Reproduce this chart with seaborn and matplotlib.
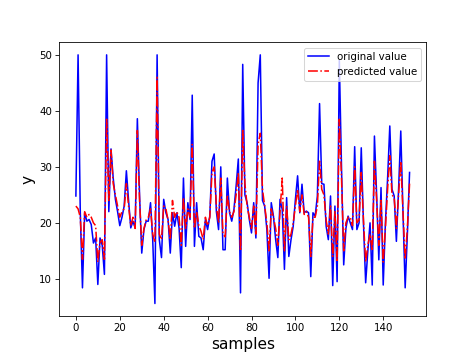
import numpy as np
import pandas as pd
import matplotlib
matplotlib.use("Agg")
import matplotlib.pyplot as plt
import seaborn as sns

# stvarne vrijednosti (ocitane sa slike)
original_value = [
    24.8, 50, 22, 8.4, 21.8, 20.3, 20.6, 19.7, 16.4, 17.3,
    9, 17.3, 16, 10.8, 50, 22, 33.2, 28, 24.2, 22,
    19.5, 21, 23, 29.3, 24, 19.1, 20.3, 19.1, 38.6, 25,
    14.6, 18.8, 20.3, 20.3, 23.6, 17, 5.6, 50, 17, 13.8,
    24.2, 21.8, 20.6, 14.6, 21.8, 19.4, 21.8, 19.1, 12, 28,
    15.8, 23.6, 20.6, 42.8, 15.8, 23.6, 17.6, 17.3, 15.2, 20.6,
    18.8, 21.2, 31, 32.3, 22, 18.8, 30, 15.2, 15.2, 28,
    21.8, 20.3, 22.4, 26.6, 31.4, 7.5, 48.3, 25, 23.6, 20.6,
    18.2, 23.6, 17.3, 45, 50, 24, 23, 18.8, 10.1, 23.6,
    21.2, 17, 13.8, 24.2, 22.4, 11.7, 24.5, 14, 17, 19.4,
    24.2, 28.4, 21.8, 26.9, 21.8, 22.1, 21.8, 10.4, 21.8, 21.2,
    24.8, 41.3, 27, 26.9, 19.4, 17, 24.8, 8.8, 23, 9.5,
    49, 30, 12.5, 19, 21.2, 20, 18.8, 33.6, 18.8, 20,
    33.4, 20, 9.3, 15, 20, 8.9, 35.5, 25, 13.4, 26.3,
    8.9, 20, 28, 37.3, 26, 24.8, 16.7, 26, 36.4, 22,
    8.4, 18, 29,
]

# predvidene vrijednosti
predicted_value = [
    23, 22.5, 21, 13.5, 22, 21, 21.5, 21, 20, 19.5,
    13, 16.5, 17, 13.5, 38.5, 24, 33, 27, 25, 23,
    21, 22, 22.5, 27, 23, 19.5, 21, 19, 36.5, 24,
    16, 19, 20.5, 21, 22.5, 18, 16.5, 46, 18, 17,
    23, 22.5, 20.5, 17, 24, 21, 22, 21, 16, 24.5,
    19, 22.5, 21, 34, 19, 22, 19.5, 18.5, 17, 21,
    19.5, 21, 29, 30, 23, 20, 28, 18, 17.5, 25,
    22, 21, 22, 25, 29, 15, 36.5, 27, 23, 21,
    19, 23, 18, 34, 36, 26, 23, 20, 15, 22.5,
    21, 19, 16, 22, 28, 15, 23, 17, 18, 20,
    23, 26, 22, 25, 21.5, 22, 21, 14, 21, 21,
    23, 31, 26, 25, 20.5, 18, 23, 14, 22, 13,
    38.5, 28, 15, 20, 21, 21, 19.5, 30, 20, 20.5,
    29, 20.5, 13, 16, 18, 15, 31, 24, 16, 24,
    13, 19, 26, 32, 25, 24.5, 19, 25, 31, 22,
    13.5, 19, 27,
]

samples = np.arange(len(original_value))

# %% - crtanje
fig, ax = plt.subplots(figsize=(6.4, 4.8), dpi=74)

sns.lineplot(x=samples, y=original_value, color="blue", linewidth=1.5,
             label="original value", ax=ax)
sns.lineplot(x=samples, y=predicted_value, color="red", linewidth=1.5,
             linestyle="-.", label="predicted value", ax=ax)

ax.set_xlabel("samples", fontsize=15)
ax.set_ylabel("y", fontsize=15)
ax.legend(loc="upper right")

fig.savefig("out.png", dpi=74)
